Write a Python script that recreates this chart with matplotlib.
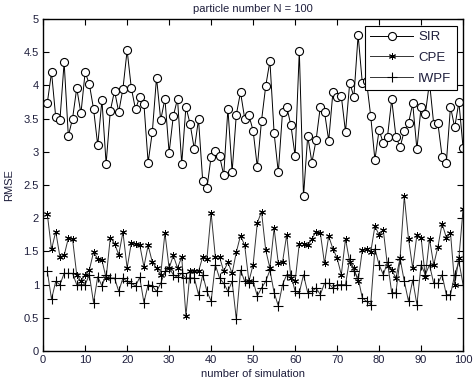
#!/usr/bin/env python3
"""
RMSE of SIR, CPE and IWPF filters over 100 simulation runs (N = 100).
Saves plot as out.png
"""

import numpy as np
import matplotlib.pyplot as plt

plt.rcParams['font.family'] = ['Liberation Sans', 'DejaVu Sans']

# simulation index
runs = list(range(1, 101))

sir_rmse = [
    3.74, 4.20, 3.52, 3.48, 4.35, 3.24, 3.50, 3.96, 3.58, 4.20,
    4.02, 3.65, 3.10, 3.78, 2.82, 3.62, 3.92, 3.60, 3.95, 4.53,
    3.96, 3.64, 3.83, 3.72, 2.84, 3.30, 4.12, 3.48, 3.80, 2.99,
    3.54, 3.80, 2.82, 3.68, 3.42, 3.04, 3.49, 2.56, 2.45, 2.93,
    3.01, 2.94, 2.65, 3.65, 2.70, 3.56, 3.90, 3.50, 3.55, 3.32,
    2.77, 3.47, 3.99, 4.37, 3.28, 2.69, 3.60, 3.68, 3.40, 2.94,
    4.52, 2.33, 3.24, 2.84, 3.18, 3.68, 3.60, 3.17, 3.90, 3.83,
    3.84, 3.30, 4.04, 3.83, 4.76, 4.04, 4.07, 3.54, 2.88, 3.33,
    3.13, 3.23, 3.79, 3.23, 3.07, 3.32, 3.43, 3.73, 3.04, 3.68,
    3.57, 4.05, 3.42, 3.43, 2.93, 2.83, 3.68, 3.37, 3.75, 3.06,
]

cpe_rmse = [
    2.06, 1.53, 1.80, 1.42, 1.44, 1.70, 1.69, 1.15, 1.05, 1.15,
    1.22, 1.49, 1.39, 1.37, 1.10, 1.71, 1.62, 1.45, 1.79, 1.25,
    1.63, 1.62, 1.60, 1.27, 1.59, 1.34, 1.25, 1.15, 1.78, 1.25,
    1.44, 1.25, 1.42, 0.53, 1.20, 1.20, 1.20, 1.42, 1.39, 2.08,
    1.42, 1.42, 1.20, 1.34, 1.17, 1.49, 1.74, 1.59, 1.05, 1.30,
    1.93, 2.10, 1.52, 1.25, 1.85, 1.32, 1.34, 1.75, 1.10, 1.05,
    1.62, 1.62, 1.59, 1.69, 1.80, 1.78, 1.32, 1.73, 1.54, 1.40,
    1.15, 1.69, 1.34, 1.25, 1.05, 1.52, 1.54, 1.49, 1.88, 1.75,
    1.82, 1.28, 1.22, 1.10, 1.40, 2.33, 1.69, 1.25, 1.75, 1.71,
    1.12, 1.69, 1.30, 1.57, 1.92, 1.71, 1.78, 1.00, 1.40, 2.14,
]

iwpf_rmse = [
    1.20, 0.78, 1.05, 1.00, 1.17, 1.17, 1.17, 1.00, 1.00, 1.00,
    1.15, 0.73, 1.12, 0.98, 1.15, 1.10, 1.10, 0.90, 1.10, 1.05,
    1.02, 0.98, 1.11, 0.73, 1.00, 0.98, 0.90, 1.02, 1.20, 1.25,
    1.15, 1.11, 1.17, 1.10, 1.10, 1.10, 0.85, 1.15, 0.90, 0.75,
    1.30, 1.10, 1.02, 0.90, 1.05, 0.48, 1.22, 1.05, 1.02, 1.05,
    0.83, 0.95, 1.05, 1.22, 0.88, 0.68, 1.00, 1.15, 1.15, 0.90,
    0.88, 1.15, 0.88, 0.90, 0.95, 0.85, 1.02, 1.02, 0.95, 1.00,
    1.00, 1.00, 1.39, 1.20, 1.10, 0.80, 0.75, 0.70, 1.54, 1.30,
    1.15, 1.34, 0.88, 0.88, 1.39, 1.05, 0.75, 1.07, 0.70, 1.30,
    1.15, 1.30, 1.02, 1.02, 1.15, 0.85, 0.85, 1.15, 1.35, 1.00,
]

text_color = '#1e1e3c'


def plot_rmse(filename='out.png'):
    fig = plt.figure(figsize=(4.74, 3.82), dpi=100)
    ax = fig.add_axes([0.091, 0.081, 0.886, 0.869])

    ax.plot(runs, sir_rmse, color='black', lw=0.7, marker='o', ms=5.8,
            mfc='white', mec='black', mew=0.8, label='SIR')
    # matlab style asterisk marker
    ax.plot(runs, cpe_rmse, color='#333333', lw=0.7, marker=(6, 2, 0), ms=5,
            mec='black', mew=0.7, label='CPE')
    ax.plot(runs, iwpf_rmse, color='#333333', lw=0.7, marker='+', ms=6.5,
            mec='black', mew=0.8, label='IWPF')

    ax.set_xlim(0, 100)
    ax.set_ylim(0, 5)
    ax.set_xticks(np.arange(0, 101, 10))
    ax.set_yticks(np.arange(0, 5.01, 0.5))
    ax.set_yticklabels(['0', '0.5', '1', '1.5', '2', '2.5', '3', '3.5',
                        '4', '4.5', '5'])
    ax.tick_params(direction='in', top=True, right=True, length=4,
                   labelsize=8, colors='black', labelcolor=text_color, pad=3)
    for sp in ax.spines.values():
        sp.set_linewidth(1.0)

    ax.set_xlabel('number of simulation', fontsize=8, color=text_color,
                  labelpad=3)
    ax.set_ylabel('RMSE', fontsize=8, color=text_color, labelpad=7)
    ax.set_title('particle number N = 100', fontsize=8, color=text_color,
                 pad=5)

    leg = ax.legend(loc='upper right', fontsize=9.5, handlelength=3.2,
                    fancybox=False, edgecolor='black', framealpha=1,
                    borderpad=0.4, labelspacing=0.65, handletextpad=0.4,
                    borderaxespad=0.5)
    leg.get_frame().set_linewidth(0.8)
    for t in leg.get_texts():
        t.set_color(text_color)

    fig.savefig(filename, dpi=100)
    plt.close(fig)
    print(f'Plot saved to {filename}')


if __name__ == '__main__':
    plot_rmse()
